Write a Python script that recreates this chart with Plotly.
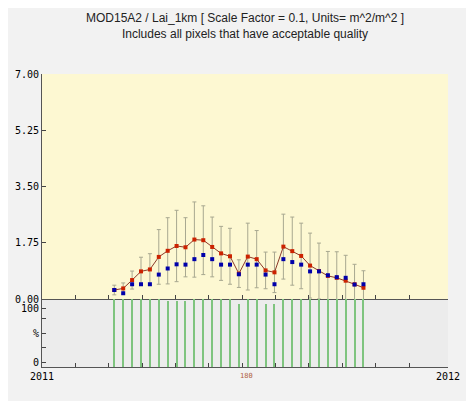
import plotly.graph_objects as go
from plotly.subplots import make_subplots

days = [65 + 8 * i for i in range(29)]
lai_mean = [0.28, 0.33, 0.59, 0.86, 0.92, 1.31, 1.50, 1.65, 1.61, 1.85, 1.83, 1.62, 1.42, 1.33, 0.79,
            1.32, 1.24, 0.89, 0.83, 1.63, 1.49, 1.34, 1.04, 0.87, 0.72, 0.66, 0.57, 0.46, 0.35]
lai_std = [0.15, 0.17, 0.28, 0.44, 0.49, 0.85, 1.03, 1.11, 0.92, 1.17, 1.07, 0.93, 0.84, 0.87, 0.43,
           1.04, 0.89, 0.57, 0.63, 1.01, 1.06, 1.02, 1.01, 0.87, 0.76, 0.81, 0.79, 0.62, 0.53]
lai_site = [0.28, 0.18, 0.46, 0.46, 0.46, 0.76, 0.95, 1.08, 1.07, 1.24, 1.37, 1.24, 1.07, 1.07, 0.77,
            1.07, 1.07, 0.76, 0.46, 1.24, 1.15, 1.07, 0.86, 0.86, 0.74, 0.68, 0.66, 0.45, 0.46]
pct_good = [100, 100, 100, 100, 100, 100, 97, 97, 97, 100, 100, 100, 100, 100, 93,
            100, 100, 93, 93, 100, 100, 100, 100, 100, 100, 100, 100, 100, 100]

fig = make_subplots(rows=2, cols=1, shared_xaxes=True, row_heights=[0.768, 0.232], vertical_spacing=0)

fig.add_trace(go.Scatter(x=days, y=lai_mean, mode="lines+markers",
                         line=dict(color="#8b3a2a", width=1),
                         marker=dict(symbol="square", size=4, color="#cc2200"),
                         error_y=dict(type="data", array=lai_std, color="#a8a890", thickness=1, width=2)),
              row=1, col=1)
fig.add_trace(go.Scatter(x=days, y=lai_site, mode="markers",
                         marker=dict(symbol="square", size=4, color="#0000aa")), row=1, col=1)
fig.add_trace(go.Bar(x=days, y=pct_good, width=1, marker=dict(color="#7fc47f", line_width=0)),
              row=2, col=1)

mono = dict(family="DejaVu Sans Mono", size=10, color="black")
month_ticks = [0, 30, 60, 90, 120, 150, 180, 210, 240, 270, 300, 330, 365]

fig.update_xaxes(range=[0, 365], tickvals=month_ticks, ticks="inside", ticklen=4, automargin=False,
                 showgrid=False, showline=True, linecolor="#555", mirror=False, zeroline=False)
fig.update_xaxes(showticklabels=False, row=1, col=1)
fig.update_xaxes(ticktext=["2011"] + [""] * 11 + ["2012"], tickfont=mono, row=2, col=1)
fig.update_yaxes(range=[0, 7], tickvals=[0, 1.75, 3.5, 5.25, 7],
                 ticktext=["0.00", "1.75", "3.50", "5.25", "7.00"], tickfont=mono, automargin=False,
                 ticks="inside", ticklen=4, showgrid=False, zeroline=False,
                 showline=True, linecolor="#555", row=1, col=1)
fig.update_yaxes(range=[0, 100], tickvals=[6, 28, 50, 72, 86], ticktext=["0", "", "%", "", "100"],
                 tickfont=mono, ticks="inside", ticklen=4, showgrid=False, zeroline=False, automargin=False,
                 showline=True, linecolor="#555", row=2, col=1)

fig.add_annotation(x=184, y=-0.05, xref="x2", yref="paper", text="180", showarrow=False,
                   font=dict(family="DejaVu Sans Mono", size=7, color="#b06040"))

fig.update_layout(
    width=474, height=401, showlegend=False,
    margin=dict(l=34, r=34, t=66, b=42),
    paper_bgcolor="#f2f2f2",
    title=dict(text="MOD15A2 / Lai_1km [ Scale Factor = 0.1, Units= m^2/m^2 ]<br>Includes all pixels that have acceptable quality",
               x=0.5, y=0.965, yanchor="top", font=dict(family="Arial", size=12, color="#222")),
    bargap=0,
)
fig.layout.yaxis.update(domain=[0.232, 1])
fig.layout.yaxis2.update(domain=[0, 0.232])
fig.add_shape(type="rect", xref="x domain", yref="y domain", x0=0, x1=1, y0=0, y1=1,
              fillcolor="#fdf8d2", line_width=0, layer="below", row=1, col=1)
fig.add_shape(type="rect", xref="x2 domain", yref="y2 domain", x0=0, x1=1, y0=0, y1=1,
              fillcolor="#ececec", line_width=0, layer="below", row=2, col=1)
fig.update_layout(plot_bgcolor="rgba(0,0,0,0)")

fig.write_html("out.html")
